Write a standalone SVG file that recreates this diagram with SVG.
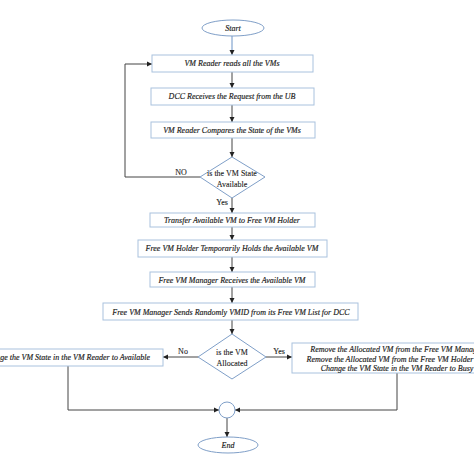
<svg xmlns="http://www.w3.org/2000/svg" width="474" height="474" viewBox="0 0 474 474">
<style>
.box{fill:#fff;stroke:#a9c2de;stroke-width:1}
.shape{fill:#fff;stroke:#7f9fc8;stroke-width:1}
.t{font-family:"Liberation Serif",serif;font-style:italic;font-size:8px;fill:#1a1a1a;stroke:#1a1a1a;stroke-width:0.15;text-anchor:middle}
.d{font-family:"Liberation Serif",serif;font-size:8px;fill:#1a1a1a;stroke:#1a1a1a;stroke-width:0.1;text-anchor:middle}
.c{fill:none;stroke:#444;stroke-width:1}
</style>
<defs>
<marker id="ah" markerWidth="6" markerHeight="6" refX="5" refY="3" orient="auto" markerUnits="userSpaceOnUse">
<path d="M0,0.5 L5,3 L0,5.5 Z" fill="#222"/>
</marker>
</defs>
<rect width="474" height="474" fill="#fff"/>
<g id="connectors">
<line x1="232" y1="36" x2="232" y2="55" stroke="#6b93c6" stroke-width="1" marker-end="url(#ah)"/>
<line class="c" x1="232" y1="72" x2="232" y2="88" marker-end="url(#ah)"/>
<line class="c" x1="232" y1="105" x2="232" y2="122" marker-end="url(#ah)"/>
<line class="c" x1="232" y1="138" x2="232" y2="157" marker-end="url(#ah)"/>
<polyline class="c" points="200,177 125,177 125,64 152,64" marker-end="url(#ah)"/>
<line class="c" x1="232" y1="198" x2="232" y2="213" marker-end="url(#ah)"/>
<line class="c" x1="232" y1="227" x2="232" y2="240" marker-end="url(#ah)"/>
<line class="c" x1="232" y1="257" x2="232" y2="272" marker-end="url(#ah)"/>
<line class="c" x1="232" y1="287" x2="232" y2="303" marker-end="url(#ah)"/>
<line class="c" x1="232" y1="320" x2="232" y2="334" marker-end="url(#ah)"/>
<line class="c" x1="198" y1="357" x2="163" y2="357" marker-end="url(#ah)"/>
<line class="c" x1="266" y1="357" x2="292" y2="357" marker-end="url(#ah)"/>
<polyline class="c" points="68,366 68,410 219,410" marker-end="url(#ah)"/>
<polyline class="c" points="397,373 397,410 235,410" marker-end="url(#ah)"/>
<line class="c" x1="227" y1="418" x2="227" y2="437" marker-end="url(#ah)"/>
<text class="d" x="181" y="175">NO</text>
<text class="d" x="222" y="205">Yes</text>
<text class="d" x="183" y="354">No</text>
<text class="d" x="279" y="354">Yes</text>
</g>
<g id="start">
<ellipse class="shape" cx="233" cy="28" rx="31" ry="8"/>
<text class="t" x="233" y="31">Start</text>
</g>
<g id="n1">
<rect class="box" x="152" y="55" width="161" height="17"/>
<text class="t" x="232" y="66">VM Reader reads all the VMs</text>
</g>
<g id="n2">
<rect class="box" x="151" y="88" width="163" height="17"/>
<text class="t" x="232" y="99">DCC Receives the Request from the UB</text>
</g>
<g id="n3">
<rect class="box" x="151" y="122" width="164" height="16"/>
<text class="t" x="232" y="133">VM Reader Compares the State of the VMs</text>
</g>
<g id="d1">
<polygon class="shape" points="232,157 265,177 232,198 200,177"/>
<text class="d" x="232" y="176">is the VM State</text>
<text class="d" x="232" y="187">Available</text>
</g>
<g id="n4">
<rect class="box" x="150" y="213" width="165" height="14"/>
<text class="t" x="232" y="223">Transfer Available VM to Free VM Holder</text>
</g>
<g id="n5">
<rect class="box" x="138" y="240" width="189" height="17"/>
<text class="t" x="232" y="251">Free VM Holder Temporarily Holds the Available VM</text>
</g>
<g id="n6">
<rect class="box" x="150" y="272" width="165" height="15"/>
<text class="t" x="232" y="282.5">Free VM Manager Receives the Available VM</text>
</g>
<g id="n7">
<rect class="box" x="103" y="303" width="255" height="17"/>
<text class="t" x="231" y="314.5">Free VM Manager Sends Randomly VMID from its Free VM List for DCC</text>
</g>
<g id="d2">
<polygon class="shape" points="232,334 266,357 232,379 198,357"/>
<text class="d" x="232" y="355">is the VM</text>
<text class="d" x="232" y="366">Allocated</text>
</g>
<g id="n8">
<rect class="box" x="-20" y="349" width="183" height="17"/>
<text class="t" x="150" y="360" style="text-anchor:end">Change the VM State in the VM Reader to Available</text>
</g>
<g id="n9">
<rect class="box" x="292" y="343" width="210" height="30"/>
<text class="t" x="397" y="352">Remove the Allocated VM from the Free VM Manager</text>
<text class="t" x="397" y="361.5">Remove the Allocated VM from the Free VM Holder and</text>
<text class="t" x="397" y="371">Change the VM State in the VM Reader to Busy</text>
</g>
<g id="join">
<circle class="shape" cx="227" cy="410" r="8"/>
</g>
<g id="end">
<ellipse class="shape" cx="228" cy="445" rx="30" ry="8"/>
<text class="t" x="228" y="448">End</text>
</g>
</svg>
